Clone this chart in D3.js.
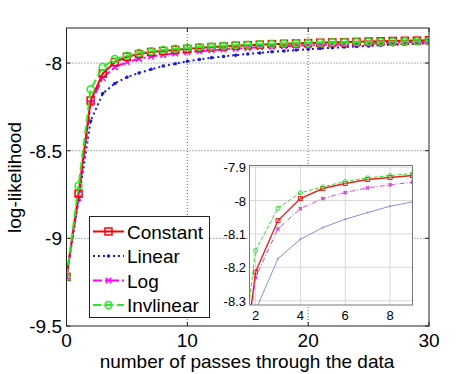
<!DOCTYPE html>
<html><head><meta charset="utf-8">
<script src="https://cdn.jsdelivr.net/npm/d3@7/dist/d3.min.js"></script>
<style>
body{margin:0;background:#fff;}
svg text{font-family:"Liberation Sans",Arial,sans-serif;fill:#000;}
</style></head>
<body><svg id="c" width="474" height="374"></svg>
<script>
const passes = d3.range(0, 31);
const constant = [-9.22,-8.745,-8.214,-8.060,-7.994,-7.964,-7.949,-7.937,-7.931,-7.925,-7.919,-7.914,-7.909,-7.905,-7.901,-7.898,-7.895,-7.892,-7.890,-7.888,-7.886,-7.884,-7.882,-7.881,-7.879,-7.877,-7.876,-7.874,-7.873,-7.872,-7.870];
const linear   = [-9.22,-8.780,-8.330,-8.174,-8.116,-8.081,-8.056,-8.036,-8.017,-8.004,-7.990,-7.979,-7.970,-7.962,-7.955,-7.948,-7.942,-7.936,-7.931,-7.926,-7.921,-7.917,-7.913,-7.909,-7.905,-7.902,-7.898,-7.895,-7.892,-7.889,-7.886];
const logS     = [-9.22,-8.770,-8.230,-8.085,-8.024,-7.994,-7.976,-7.962,-7.953,-7.945,-7.938,-7.932,-7.927,-7.922,-7.918,-7.914,-7.910,-7.907,-7.904,-7.901,-7.899,-7.896,-7.894,-7.892,-7.890,-7.888,-7.886,-7.884,-7.882,-7.881,-7.879];
const invlinear= [-9.22,-8.700,-8.150,-8.023,-7.977,-7.959,-7.943,-7.932,-7.925,-7.919,-7.914,-7.909,-7.905,-7.901,-7.898,-7.895,-7.893,-7.891,-7.889,-7.887,-7.885,-7.884,-7.882,-7.881,-7.880,-7.879,-7.878,-7.877,-7.876,-7.875,-7.874];
const seriesNames = ["Constant","Linear","Log","Invlinear"];
const xTicks = [0,10,20,30];
const yTicks = [-9.5,-9,-8.5,-8];
const yTickLabels = ["-9.5","-9","-8.5","-8"];
const insetXTicks = [2,4,6,8];
const insetYTicks = [-8.3,-8.2,-8.1,-8,-7.9];
const insetYTickLabels = ["-8.3","-8.2","-8.1","-8","-7.9"];

const series = [
  {name:seriesNames[0], vals:constant, color:"#ff0000", icolor:"#e8231e", dash:null, idash:null, marker:"square"},
  {name:seriesNames[1], vals:linear, color:"#1a1ad8", icolor:"#8c8ce0", dash:"2,3", idash:null, marker:"dot"},
  {name:seriesNames[2], vals:logS, color:"#ff00ff", icolor:"#e040e0", dash:"9,3,2,3", idash:"5,2,1,2", marker:"x"},
  {name:seriesNames[3], vals:invlinear, color:"#22ee22", icolor:"#33dd33", dash:"8,4", idash:"4,2", marker:"circle"}
];

const svg = d3.select("#c");
const x = d3.scaleLinear().domain([0,30]).range([66.5,429]);
const y = d3.scaleLinear().domain([-9.5,-7.8]).range([326,28]);

svg.append("defs").append("clipPath").attr("id","mclip").append("rect")
  .attr("x",66.5).attr("y",28).attr("width",429-66.5).attr("height",326-28);

const grid = svg.append("g");
xTicks.slice(1,3).forEach(t=>grid.append("line").attr("x1",x(t)).attr("x2",x(t)).attr("y1",28).attr("y2",326)
  .attr("stroke","#666").attr("stroke-width",1).attr("stroke-dasharray","1,2"));
yTicks.slice(1).forEach(t=>grid.append("line").attr("x1",66.5).attr("x2",429).attr("y1",y(t)).attr("y2",y(t))
  .attr("stroke","#666").attr("stroke-width",1).attr("stroke-dasharray","1,2"));

function drawMarker(g, type, cx, cy, color, s){
  if(type==="square") g.append("rect").attr("x",cx-s).attr("y",cy-s).attr("width",2*s).attr("height",2*s)
     .attr("fill","none").attr("stroke",color).attr("stroke-width",s>2?1.5:1);
  else if(type==="circle") g.append("circle").attr("cx",cx).attr("cy",cy).attr("r",s)
     .attr("fill","none").attr("stroke",color).attr("stroke-width",s>2?1.5:1);
  else if(type==="dot") g.append("circle").attr("cx",cx).attr("cy",cy).attr("r",s*0.5)
     .attr("fill",color);
  else if(type==="x") g.append("path").attr("d",`M${cx-s*0.8},${cy-s*0.8}L${cx+s*0.8},${cy+s*0.8}M${cx-s*0.8},${cy+s*0.8}L${cx+s*0.8},${cy-s*0.8}`)
     .attr("stroke",color).attr("stroke-width",1.5);
}

const plot = svg.append("g").attr("clip-path","url(#mclip)");
[1,2,0,3].forEach(i=>{
  const s = series[i];
  const line = d3.line().x((d,j)=>x(passes[j])).y(d=>y(d));
  plot.append("path").datum(s.vals).attr("d",line).attr("fill","none")
    .attr("stroke",s.color).attr("stroke-width",2).attr("stroke-dasharray",s.dash);
  const mg = plot.append("g");
  s.vals.forEach((v,j)=>drawMarker(mg,s.marker,x(passes[j]),y(v),s.color,3.5));
});

const fr = svg.append("g");
fr.append("rect").attr("x",66.5).attr("y",28).attr("width",429-66.5).attr("height",326-28)
  .attr("fill","none").attr("stroke","#222").attr("stroke-width",1);
xTicks.forEach(t=>{
  fr.append("line").attr("x1",x(t)).attr("x2",x(t)).attr("y1",326).attr("y2",322).attr("stroke","#222");
  fr.append("line").attr("x1",x(t)).attr("x2",x(t)).attr("y1",28).attr("y2",32).attr("stroke","#222");
  fr.append("text").attr("x",x(t)).attr("y",347).attr("text-anchor","middle").attr("font-size",19).text(t);
});
yTicks.forEach((t,i)=>{
  fr.append("line").attr("x1",66.5).attr("x2",70.5).attr("y1",y(t)).attr("y2",y(t)).attr("stroke","#222");
  fr.append("line").attr("x1",429).attr("x2",425).attr("y1",y(t)).attr("y2",y(t)).attr("stroke","#222");
  fr.append("text").attr("x",62).attr("y",y(t)+7).attr("text-anchor","end").attr("font-size",19).text(yTickLabels[i]);
});
svg.append("text").attr("transform","translate(21,177.5) rotate(-90)").attr("text-anchor","middle")
  .attr("font-size",19).text("log-likelihood");
svg.append("text").attr("x",247).attr("y",368).attr("text-anchor","middle")
  .attr("font-size",19).text("number of passes through the data");

const lg = svg.append("g");
lg.append("rect").attr("x",89.5).attr("y",216.5).attr("width",120).attr("height",101)
  .attr("fill","#fff").attr("stroke","#222").attr("stroke-width",1);
series.forEach((s,i)=>{
  const cy = 231.5 + i*24.5;
  lg.append("line").attr("x1",93).attr("x2",124).attr("y1",cy).attr("y2",cy)
    .attr("stroke",s.color).attr("stroke-width",2).attr("stroke-dasharray",s.dash);
  drawMarker(lg,s.marker,108.5,cy,s.color,3.5);
  lg.append("text").attr("x",127).attr("y",cy+7).attr("font-size",19).text(s.name);
});

const ix = d3.scaleLinear().domain([1.73,9]).range([249.5,412.5]);
const iy = d3.scaleLinear().domain([-8.313,-7.895]).range([305,165.5]);
svg.select("defs").append("clipPath").attr("id","iclip").append("rect")
  .attr("x",249.5).attr("y",165.5).attr("width",163).attr("height",139.5);
const ins = svg.append("g");
ins.append("rect").attr("x",249.5).attr("y",165.5).attr("width",163).attr("height",139.5).attr("fill","#fff");
insetXTicks.forEach(t=>{
  ins.append("line").attr("x1",ix(t)).attr("x2",ix(t)).attr("y1",165.5).attr("y2",305).attr("stroke","#d8d8d8");
  ins.append("text").attr("x",ix(t)).attr("y",320).attr("text-anchor","middle").attr("font-size",13).text(t);
});
insetYTicks.forEach((t,i)=>{
  ins.append("line").attr("x1",249.5).attr("x2",412.5).attr("y1",iy(t)).attr("y2",iy(t)).attr("stroke","#d8d8d8");
  ins.append("text").attr("x",246).attr("y",iy(t)+5).attr("text-anchor","end").attr("font-size",13).text(insetYTickLabels[i]);
});
const ip = ins.append("g").attr("clip-path","url(#iclip)");
[1,2,0,3].forEach(i=>{
  const s = series[i];
  const line = d3.line().x((d,j)=>ix(passes[j])).y(d=>iy(d));
  ip.append("path").datum(s.vals.slice(0,11)).attr("d",line).attr("fill","none")
    .attr("stroke",s.icolor).attr("stroke-width",s.marker==="square"?1.4:1).attr("stroke-dasharray",s.idash);
  const mg = ip.append("g");
  s.vals.slice(0,11).forEach((v,j)=>drawMarker(mg,s.marker,ix(passes[j]),iy(v),s.icolor,2));
});
ins.append("rect").attr("x",249.5).attr("y",165.5).attr("width",163).attr("height",139.5)
  .attr("fill","none").attr("stroke","#777").attr("stroke-width",1);
</script></body></html>
